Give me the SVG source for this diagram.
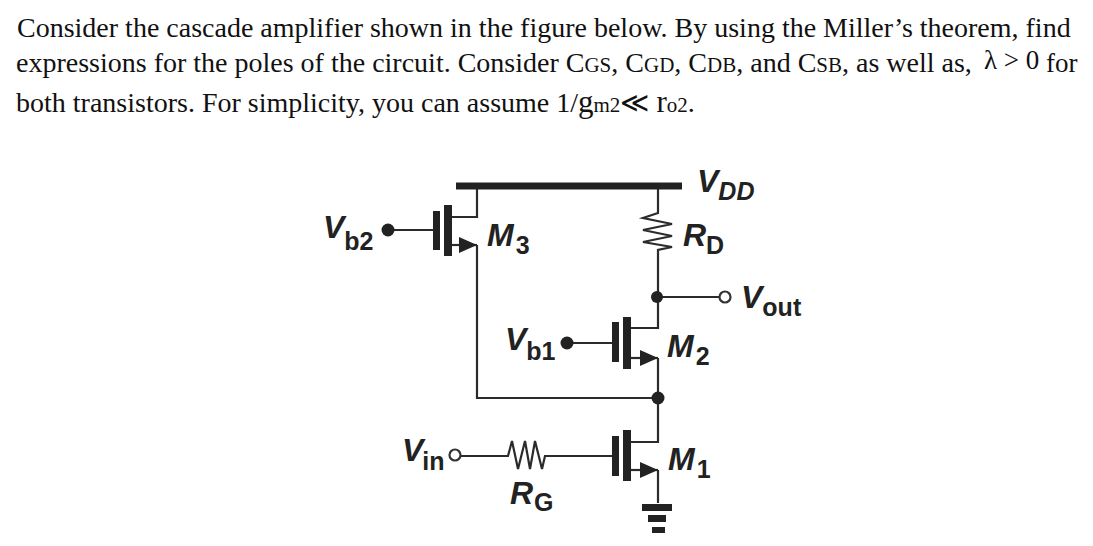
<svg xmlns="http://www.w3.org/2000/svg" width="1093" height="546" viewBox="0 0 1093 546">
<defs>
<style>
.t{font-family:"Liberation Serif",serif;font-size:28px;fill:#111}
.s{font-size:21px}
.g{font-size:31px}
.w{fill:none;stroke:#2b2b2b;stroke-width:2.2}
.p{fill:#222}
.l{font-family:"Liberation Sans",Arial,sans-serif;font-style:italic;font-weight:bold;font-size:32px;fill:#222}
.b{font-family:"Liberation Sans",Arial,sans-serif;font-size:25px;font-style:normal;font-weight:bold;fill:#222}
.i{font-style:italic}
.o{fill:#fff;stroke:#333;stroke-width:2.2}
</style>
<marker id="ah" markerUnits="userSpaceOnUse" markerWidth="20" markerHeight="16" refX="18" refY="8" orient="auto"><path d="M0 0L18 8L0 16Z" fill="#222"/></marker>
</defs>
<rect width="1093" height="546" fill="#fff"/>
<g id="question">
<text class="t" x="17" y="37">Consider the cascade amplifier shown in the figure below. By using the Miller’s theorem, find</text>
<text class="t" x="16" y="72">expressions for the poles of the circuit. Consider C<tspan class="s">GS</tspan>, C<tspan class="s">GD</tspan>, C<tspan class="s">DB</tspan>, and C<tspan class="s">SB</tspan>, as well as,</text>
<text class="t" x="984" y="69" style="font-size:27px">λ &gt; 0</text>
<text class="t" x="1046" y="72" style="font-size:27px">for</text>
<text class="t" x="16" y="112">both transistors. For simplicity, you can assume 1/<tspan class="g">g</tspan><tspan class="s">m2</tspan>≪ <tspan class="g">r</tspan><tspan class="s">o2</tspan>.</text>
</g>
<g id="connectors">
<path class="w" d="M477 186V217H452"/>
<path class="w" d="M391 230H433"/>
<path class="w" d="M452 245H477" marker-end="url(#ah)"/>
<path class="w" d="M477 245V398H658"/>
<path class="w" d="M658 186V213L643 218L672 224L643 230L672 236L643 242L672 247L658 250V328H631"/>
<path class="w" d="M658 297H720"/>
<path class="w" d="M570 343H612"/>
<path class="w" d="M631 358H658" marker-end="url(#ah)"/>
<path class="w" d="M658 358V442H631"/>
<path class="w" d="M631 470H658" marker-end="url(#ah)"/>
<path class="w" d="M658 470V503"/>
<path class="w" d="M461 456H508L512 441L518 469L525 441L530 469L535 441L542 469L545 456H612"/>
</g>
<g id="VDD-rail"><rect class="p" x="456" y="182.500" width="226" height="7"/><text class="l" x="697" y="192">V<tspan class="b i" dy="8">DD</tspan></text></g>
<g id="M3">
<rect class="p" x="433" y="211" width="7" height="39"/><rect class="p" x="444" y="205" width="8" height="51"/>
<text class="l" x="487" y="246">M<tspan class="b" dy="8" dx="2">3</tspan></text>
</g>
<g id="Vb2"><circle class="p" cx="388" cy="230" r="6.500"/><text class="l" x="323" y="238">V<tspan class="b" dy="12">b2</tspan></text></g>
<g id="RD"><text class="l" x="683" y="246">R<tspan class="b" dy="8">D</tspan></text></g>
<g id="Vout"><circle class="p" cx="657" cy="297" r="6"/><circle class="o" cx="725" cy="297" r="5.500"/><text class="l" x="741" y="308">V<tspan class="b" dy="8">out</tspan></text></g>
<g id="M2">
<rect class="p" x="612" y="322" width="7" height="40"/><rect class="p" x="623" y="317" width="8" height="52"/>
<text class="l" x="667" y="357">M<tspan class="b" dy="8" dx="2">2</tspan></text>
</g>
<g id="Vb1"><circle class="p" cx="567" cy="343" r="6.500"/><text class="l" x="505" y="350">V<tspan class="b" dy="10">b1</tspan></text></g>
<g id="node-M2-M1"><circle class="p" cx="658" cy="398" r="6.500"/></g>
<g id="M1">
<rect class="p" x="612" y="436" width="7" height="40"/><rect class="p" x="623" y="430" width="8" height="51"/>
<text class="l" x="668" y="470">M<tspan class="b" dy="8" dx="2">1</tspan></text>
</g>
<g id="Vin"><circle class="o" cx="455" cy="455" r="5.500"/><text class="l" x="402" y="461">V<tspan class="b" dy="9" dx="-1">in</tspan></text></g>
<g id="RG"><text class="l" x="510" y="504">R<tspan class="b" dy="7" dx="1">G</tspan></text></g>
<g id="ground"><rect class="p" x="642" y="504" width="30" height="7"/><rect class="p" x="648" y="515" width="18" height="7"/><rect class="p" x="652" y="527" width="13" height="6"/></g>
</svg>
